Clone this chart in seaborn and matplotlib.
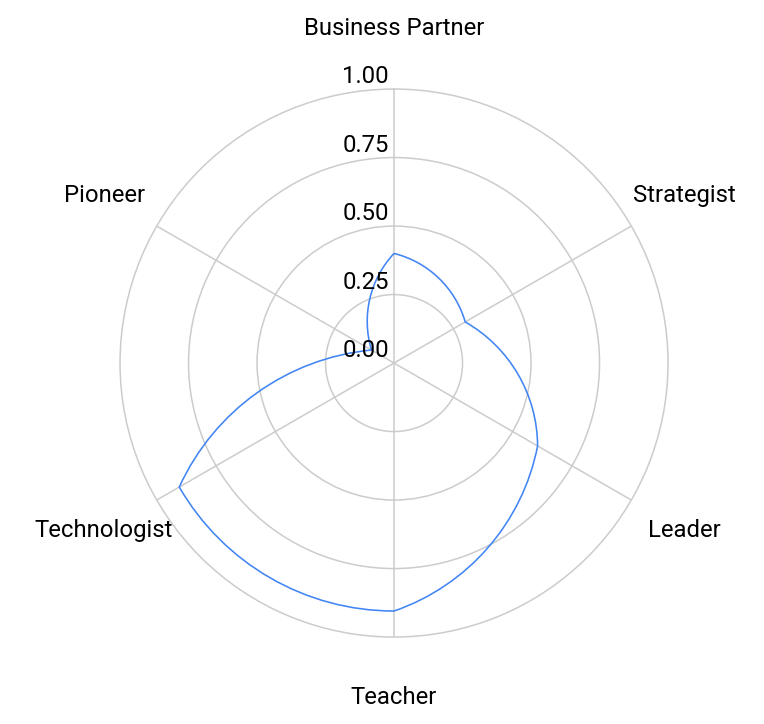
import numpy as np
import seaborn as sns
import matplotlib.pyplot as plt
from matplotlib.path import Path
from matplotlib.patches import PathPatch
from matplotlib.transforms import offset_copy

# chart data
categories = ['Business Partner', 'Strategist', 'Leader', 'Teacher', 'Technologist', 'Pioneer']
scores = [0.40, 0.30, 0.605, 0.905, 0.905, 0.095]
r_ticks = [0.0, 0.25, 0.50, 0.75, 1.00]
r_tick_labels = ['0.00', '0.25', '0.50', '0.75', '1.00']

sns.set_theme(style='white')
plt.rcParams['font.family'] = ['Roboto', 'DejaVu Sans']

angles = np.arange(len(categories)) * 2 * np.pi / len(categories)


def rot(v, a):
    c, s = np.cos(a), np.sin(a)
    return np.array([c * v[0] - s * v[1], s * v[0] + c * v[1]])


def to_polar(p):
    return [np.arctan2(p[0], p[1]), np.hypot(p[0], p[1])]


# the original joins points with 60 degree circular arcs (radius = chord),
# written here as cubic bezier segments in polar data coords
pts = [np.array([r * np.sin(a), r * np.cos(a)]) for a, r in zip(angles, scores)]
pts.append(pts[0])
k = 4.0 / 3.0 * np.tan(np.radians(15))
verts = [to_polar(pts[0])]
codes = [Path.MOVETO]
for p0, p1 in zip(pts[:-1], pts[1:]):
    v = p1 - p0
    L = np.hypot(*v)
    d = v / L
    c1 = p0 + k * L * rot(d, np.radians(30))
    c2 = p1 - k * L * rot(d, np.radians(-30))
    verts += [to_polar(c1), to_polar(c2), to_polar(p1)]
    codes += [Path.CURVE4] * 3

fig = plt.figure(figsize=(7.64, 7.24), dpi=100)
ax = fig.add_axes([0.1571, 0.1201, 0.7173, 0.7569], projection='polar')
ax.set_theta_zero_location('N')
ax.set_theta_direction(-1)

ax.add_patch(PathPatch(Path(verts, codes), fill=False, edgecolor='#4285F4',
                       linewidth=1.15, zorder=3))

ax.set_ylim(0, 1)
ax.set_yticks([0.25, 0.50, 0.75])
ax.set_yticklabels([])
ax.set_xticks(angles)
ax.set_xticklabels([])
ax.grid(True, color='#cccccc', linewidth=1.1)
ax.spines['polar'].set_color('#cccccc')
ax.spines['polar'].set_linewidth(1.1)

# category labels around the outside
for a, name in zip(angles, categories):
    ax.text(a, 1.222, name, ha='center', va='center', fontsize=17.2,
            color='black', clip_on=False)

# radial value labels along the top spoke
tr = offset_copy(ax.transData, fig=fig, x=-5, y=6, units='dots')
for v, lab in zip(r_ticks, r_tick_labels):
    ax.text(0, v, lab, transform=tr, ha='right', va='baseline',
            fontsize=17.2, color='black', clip_on=False, zorder=5)

fig.savefig('out.png', dpi=100)
